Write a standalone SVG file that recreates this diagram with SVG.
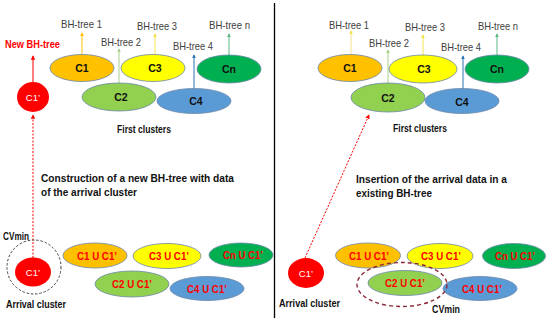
<svg xmlns="http://www.w3.org/2000/svg" width="550" height="321" viewBox="0 0 550 321">
<style>
text{font-family:"Liberation Sans",Arial,sans-serif}
.lbl{font-size:10.5px;fill:#404040}
.b{font-weight:bold;font-size:10.5px;fill:#111}
.u{font-weight:bold;font-size:10.5px;fill:#ff0000;text-anchor:middle}
.n{font-weight:bold;font-size:10.5px;fill:#111;text-anchor:middle}
.w{font-size:9.5px;fill:#fff;text-anchor:middle}
.el{stroke:#6a85a8;stroke-width:0.8}
.or{fill:#ffc000}.ye{fill:#ffff00}.gr{fill:#00b050}.lg{fill:#92d050}.bl{fill:#5b9bd5}
.red{fill:#ff0000}
</style>
<defs>
<marker id="aho" viewBox="0 0 6 6" refX="5" refY="3" markerWidth="4" markerHeight="4" orient="auto"><path d="M0,0L6,3L0,6z" fill="#ffc000"/></marker>
<marker id="ahy" viewBox="0 0 6 6" refX="5" refY="3" markerWidth="4" markerHeight="4" orient="auto"><path d="M0,0L6,3L0,6z" fill="#f2e24a"/></marker>
<marker id="ahl" viewBox="0 0 6 6" refX="5" refY="3" markerWidth="4" markerHeight="4" orient="auto"><path d="M0,0L6,3L0,6z" fill="#a9d18e"/></marker>
<marker id="ahb" viewBox="0 0 6 6" refX="5" refY="3" markerWidth="4" markerHeight="4" orient="auto"><path d="M0,0L6,3L0,6z" fill="#2e75b6"/></marker>
<marker id="ahg" viewBox="0 0 6 6" refX="5" refY="3" markerWidth="4" markerHeight="4" orient="auto"><path d="M0,0L6,3L0,6z" fill="#5cb883"/></marker>
<marker id="ahr" viewBox="0 0 6 6" refX="5" refY="3" markerWidth="4.5" markerHeight="4.5" orient="auto"><path d="M0,0L6,3L0,6z" fill="#ff0000"/></marker>
</defs>
<rect width="550" height="321" fill="#fff"/>
<line x1="274.5" y1="3" x2="274.5" y2="318" stroke="#000" stroke-width="1.3"/>

<g id="connectors" fill="none">
<line x1="82" y1="55" x2="82" y2="33" stroke="#ffc000" stroke-width="1" marker-end="url(#aho)"/>
<line x1="119" y1="83" x2="119" y2="49" stroke="#a9d18e" stroke-width="1" marker-end="url(#ahl)"/>
<line x1="155" y1="55" x2="155" y2="34" stroke="#f2e24a" stroke-width="1" marker-end="url(#ahy)"/>
<line x1="194" y1="88" x2="194" y2="55" stroke="#2e75b6" stroke-width="1" marker-end="url(#ahb)"/>
<line x1="229" y1="55" x2="229" y2="34" stroke="#5cb883" stroke-width="1" marker-end="url(#ahg)"/>
<line x1="33" y1="82" x2="33" y2="56" stroke="#ff0000" stroke-width="1" marker-end="url(#ahr)"/>
<line x1="33" y1="258" x2="33" y2="115" stroke="#ff0000" stroke-width="1" stroke-dasharray="2,1.5" marker-end="url(#ahr)"/>
<line x1="351" y1="55" x2="351" y2="31" stroke="#f5e08a" stroke-width="1" marker-end="url(#ahy)"/>
<line x1="388" y1="83" x2="388" y2="50" stroke="#a9d18e" stroke-width="1" marker-end="url(#ahl)"/>
<line x1="423" y1="55" x2="423" y2="35" stroke="#f2e24a" stroke-width="1" marker-end="url(#ahy)"/>
<line x1="463" y1="89" x2="463" y2="56" stroke="#2e75b6" stroke-width="1" marker-end="url(#ahb)"/>
<line x1="497" y1="55" x2="497" y2="34" stroke="#5cb883" stroke-width="1" marker-end="url(#ahg)"/>
<line x1="305" y1="258" x2="369" y2="115" stroke="#ff0000" stroke-width="1" stroke-dasharray="2,1.5" marker-end="url(#ahr)"/>
</g>

<!-- Left panel -->
<g id="L-newtree"><text x="5" y="48" font-weight="bold" font-size="10.5" fill="#ff0000" textLength="55" lengthAdjust="spacingAndGlyphs">New BH-tree</text></g>
<g id="L-c1p"><ellipse cx="33" cy="97" rx="16" ry="15" class="red"/><text x="33" y="100.5" class="w">C1’</text></g>
<g id="L-C1"><ellipse cx="82" cy="68" rx="32" ry="13.5" class="or el"/><text x="82" y="72" class="n">C1</text></g>
<g id="L-C3"><ellipse cx="153" cy="68" rx="32" ry="13.5" class="ye el"/><text x="155" y="72" class="n">C3</text></g>
<g id="L-Cn"><ellipse cx="229" cy="69" rx="32" ry="14" class="gr el"/><text x="229" y="73" class="n">Cn</text></g>
<g id="L-C2"><ellipse cx="119" cy="97" rx="37" ry="14" class="lg el"/><text x="121" y="101" class="n">C2</text></g>
<g id="L-C4"><ellipse cx="194" cy="101" rx="37" ry="12.5" class="bl el"/><text x="196" y="105" class="n">C4</text></g>
<g id="L-labels">
<text x="61" y="28" class="lbl" textLength="41" lengthAdjust="spacingAndGlyphs">BH-tree 1</text>
<text x="101" y="46" class="lbl" textLength="40" lengthAdjust="spacingAndGlyphs">BH-tree 2</text>
<text x="137" y="30" class="lbl" textLength="40" lengthAdjust="spacingAndGlyphs">BH-tree 3</text>
<text x="173" y="50" class="lbl" textLength="40" lengthAdjust="spacingAndGlyphs">BH-tree 4</text>
<text x="209" y="29" class="lbl" textLength="41" lengthAdjust="spacingAndGlyphs">BH-tree n</text>
<text x="117" y="133" class="b" textLength="54" lengthAdjust="spacingAndGlyphs">First clusters</text>
<text x="41" y="181.5" class="b" font-size="11.5" textLength="193" lengthAdjust="spacingAndGlyphs">Construction of a new BH-tree with data</text>
<text x="41" y="195.5" class="b" font-size="11.5" textLength="96" lengthAdjust="spacingAndGlyphs">of the arrival cluster</text>
<text x="3" y="239.5" class="b" textLength="26" lengthAdjust="spacingAndGlyphs">CVmin</text>
<text x="6" y="307.5" class="b" textLength="60" lengthAdjust="spacingAndGlyphs">Arrival cluster</text>
</g>
<g id="L-arrival"><circle cx="34" cy="267" r="27" fill="none" stroke="#404040" stroke-width="1" stroke-dasharray="2.5,1.8"/><ellipse cx="33" cy="272" rx="18" ry="14.5" class="red"/><text x="33" y="275.5" class="w">C1’</text></g>
<g id="L-U1"><ellipse cx="95" cy="255.5" rx="32" ry="12.5" class="or el"/><text x="97" y="259.5" class="u" textLength="40" lengthAdjust="spacingAndGlyphs">C1 U C1’</text></g>
<g id="L-U3"><ellipse cx="167" cy="256" rx="34" ry="12.5" class="ye el"/><text x="169" y="260" class="u" textLength="40" lengthAdjust="spacingAndGlyphs">C3 U C1’</text></g>
<g id="L-Un"><ellipse cx="241" cy="255" rx="32" ry="12" class="gr el"/><text x="243" y="259" class="u" textLength="40" lengthAdjust="spacingAndGlyphs">Cn U C1’</text></g>
<g id="L-U2"><ellipse cx="132" cy="284" rx="37" ry="13" class="lg el"/><text x="132" y="288" class="u" textLength="40" lengthAdjust="spacingAndGlyphs">C2 U C1’</text></g>
<g id="L-U4"><ellipse cx="207" cy="288.5" rx="37" ry="12" class="bl el"/><text x="207" y="292.5" class="u" textLength="40" lengthAdjust="spacingAndGlyphs">C4 U C1’</text></g>

<!-- Right panel -->
<g id="R-C1"><ellipse cx="350" cy="68" rx="32" ry="13.5" class="or el"/><text x="350" y="72" class="n">C1</text></g>
<g id="R-C3"><ellipse cx="423" cy="69" rx="34" ry="14" class="ye el"/><text x="424" y="73" class="n">C3</text></g>
<g id="R-Cn"><ellipse cx="497" cy="69" rx="32" ry="14" class="gr el"/><text x="497" y="73" class="n">Cn</text></g>
<g id="R-C2"><ellipse cx="388" cy="97.5" rx="37" ry="14.5" class="lg el"/><text x="388" y="101.5" class="n">C2</text></g>
<g id="R-C4"><ellipse cx="462" cy="101" rx="37" ry="12.5" class="bl el"/><text x="462" y="105.5" class="n">C4</text></g>
<g id="R-labels">
<text x="329" y="29" class="lbl" textLength="40" lengthAdjust="spacingAndGlyphs">BH-tree 1</text>
<text x="369" y="47" class="lbl" textLength="40" lengthAdjust="spacingAndGlyphs">BH-tree 2</text>
<text x="405" y="31" class="lbl" textLength="40" lengthAdjust="spacingAndGlyphs">BH-tree 3</text>
<text x="441" y="51" class="lbl" textLength="40" lengthAdjust="spacingAndGlyphs">BH-tree 4</text>
<text x="478" y="30" class="lbl" textLength="40" lengthAdjust="spacingAndGlyphs">BH-tree n</text>
<text x="393" y="132" class="b" textLength="54" lengthAdjust="spacingAndGlyphs">First clusters</text>
<text x="356" y="182.5" class="b" font-size="11.5" textLength="151" lengthAdjust="spacingAndGlyphs">Insertion of the arrival data in a</text>
<text x="356" y="196.5" class="b" font-size="11.5" textLength="76" lengthAdjust="spacingAndGlyphs">existing BH-tree</text>
<text x="279" y="306.5" class="b" textLength="61" lengthAdjust="spacingAndGlyphs">Arrival cluster</text>
<text x="432" y="312.5" class="b" textLength="28" lengthAdjust="spacingAndGlyphs">CVmin</text>
</g>
<g id="R-arrival"><ellipse cx="306" cy="273" rx="18" ry="15" class="red"/><text x="306" y="276.5" class="w">C1’</text></g>
<g id="R-U1"><ellipse cx="368" cy="255.5" rx="32.5" ry="12.5" class="or el"/><text x="369" y="259.5" class="u" textLength="40" lengthAdjust="spacingAndGlyphs">C1 U C1’</text></g>
<g id="R-U3"><ellipse cx="440" cy="256" rx="33" ry="12.5" class="ye el"/><text x="441" y="260" class="u" textLength="40" lengthAdjust="spacingAndGlyphs">C3 U C1’</text></g>
<g id="R-Un"><ellipse cx="514" cy="256" rx="31.5" ry="12.5" class="gr el"/><text x="515" y="260" class="u" textLength="40" lengthAdjust="spacingAndGlyphs">Cn U C1’</text></g>
<g id="R-U4"><ellipse cx="480" cy="288.5" rx="37" ry="12" class="bl el"/><text x="482" y="292.5" class="u" textLength="40" lengthAdjust="spacingAndGlyphs">C4 U C1’</text></g>
<g id="R-U2"><ellipse cx="405" cy="283" rx="37" ry="12.5" class="lg el"/><text x="405" y="287" class="u" textLength="40" lengthAdjust="spacingAndGlyphs">C2 U C1’</text></g>
<g id="R-cvmin"><ellipse cx="402" cy="284.5" rx="45" ry="22" fill="none" stroke="#8b2a3a" stroke-width="1.4" stroke-dasharray="4,3"/></g>
</svg>
